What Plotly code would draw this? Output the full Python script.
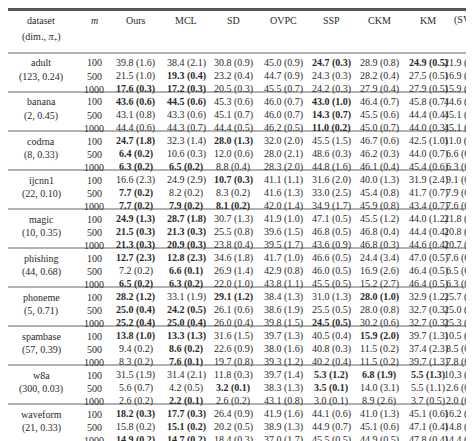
import plotly.graph_objects as go

datasets = ["adult", "banana", "codrna", "ijcnn1", "magic", "phishing", "phoneme", "spambase", "w8a", "waveform"]
dims = ["(123, 0.24)", "(2, 0.45)", "(8, 0.33)", "(22, 0.10)", "(10, 0.35)", "(44, 0.68)", "(5, 0.71)", "(57, 0.39)", "(300, 0.03)", "(21, 0.33)"]
m_values = ["100", "500", "1000"]
methods = ["Ours", "MCL", "SD", "OVPC", "SSP", "CKM", "KM", "(SV)"]

ours = ["39.8 (1.6)","21.5 (1.0)","17.6 (0.3)","43.6 (0.6)","43.1 (0.8)","44.4 (0.6)","24.7 (1.8)","6.4 (0.2)","6.3 (0.2)",
        "16.6 (2.3)","7.7 (0.2)","7.7 (0.2)","24.9 (1.3)","21.5 (0.3)","21.3 (0.3)","12.7 (2.3)","7.2 (0.2)","6.5 (0.2)",
        "28.2 (1.2)","25.0 (0.4)","25.2 (0.4)","13.8 (1.0)","9.4 (0.2)","8.3 (0.2)","31.5 (1.9)","5.6 (0.7)","2.6 (0.2)",
        "18.2 (0.3)","15.8 (0.2)","14.9 (0.2)"]
mcl = ["38.4 (2.1)","19.3 (0.4)","17.2 (0.3)","44.5 (0.6)","43.3 (0.6)","44.3 (0.7)","32.3 (1.4)","10.6 (0.3)","6.5 (0.2)",
       "24.9 (2.9)","8.2 (0.2)","7.9 (0.2)","28.7 (1.8)","21.3 (0.3)","20.9 (0.3)","12.8 (2.3)","6.6 (0.1)","6.3 (0.2)",
       "33.1 (1.9)","24.2 (0.5)","25.0 (0.4)","13.3 (1.3)","8.6 (0.2)","7.6 (0.1)","31.4 (2.1)","4.2 (0.5)","2.2 (0.1)",
       "17.7 (0.3)","15.1 (0.2)","14.7 (0.2)"]
sd = ["30.8 (0.9)","23.2 (0.4)","20.5 (0.3)","45.3 (0.6)","45.1 (0.7)","44.4 (0.5)","28.0 (1.3)","12.0 (0.6)","8.8 (0.4)",
      "10.7 (0.3)","8.3 (0.2)","8.1 (0.2)","30.7 (1.3)","25.5 (0.8)","23.8 (0.4)","34.6 (1.8)","26.9 (1.4)","22.0 (1.0)",
      "29.1 (1.2)","26.1 (0.6)","26.0 (0.4)","31.6 (1.5)","22.6 (0.9)","19.7 (0.8)","11.8 (0.3)","3.2 (0.1)","2.6 (0.2)",
      "26.4 (0.9)","20.2 (0.5)","18.4 (0.3)"]
ovpc = ["45.0 (0.9)","44.7 (0.9)","45.5 (0.7)","46.0 (0.7)","46.0 (0.7)","46.2 (0.5)","32.0 (2.0)","28.0 (2.1)","28.3 (2.0)",
        "41.1 (1.1)","41.6 (1.3)","42.0 (1.4)","41.9 (1.0)","39.6 (1.5)","39.5 (1.7)","41.7 (1.0)","42.9 (0.8)","43.8 (1.1)",
        "38.4 (1.3)","38.6 (1.9)","39.8 (1.5)","39.7 (1.3)","38.0 (1.6)","39.3 (1.2)","39.7 (1.4)","38.3 (1.3)","43.1 (0.8)",
        "41.9 (1.6)","38.9 (1.3)","37.0 (1.7)"]
ssp = ["24.7 (0.3)","24.3 (0.3)","24.2 (0.3)","43.0 (1.0)","14.3 (0.7)","11.0 (0.2)","45.5 (1.5)","48.6 (0.3)","44.8 (1.6)",
       "31.6 (2.0)","33.0 (2.5)","34.9 (1.7)","47.1 (0.5)","46.8 (0.5)","43.6 (0.9)","46.6 (0.5)","46.0 (0.5)","45.5 (0.5)",
       "31.0 (1.3)","25.5 (0.5)","24.5 (0.5)","40.5 (0.4)","40.8 (0.3)","40.2 (0.4)","5.3 (1.2)","3.5 (0.1)","3.0 (0.1)",
       "44.1 (0.6)","44.9 (0.7)","45.5 (0.5)"]
ckm = ["28.9 (0.8)","28.2 (0.4)","27.9 (0.4)","46.4 (0.7)","45.5 (0.6)","45.0 (0.7)","46.7 (0.6)","46.2 (0.3)","46.1 (0.4)",
       "40.0 (1.3)","45.4 (0.8)","45.9 (0.8)","45.5 (1.2)","46.8 (0.4)","46.8 (0.3)","24.4 (3.4)","16.9 (2.6)","15.2 (2.7)",
       "28.0 (1.0)","28.0 (0.8)","30.2 (0.6)","15.9 (2.0)","11.5 (0.2)","11.5 (0.2)","6.8 (1.9)","14.0 (3.1)","8.9 (2.6)",
       "41.0 (1.3)","45.1 (0.6)","44.9 (0.5)"]
km = ["24.9 (0.5)","27.5 (0.5)","27.9 (0.5)","45.8 (0.7)","44.4 (0.4)","44.0 (0.3)","42.5 (1.0)","44.0 (0.7)","45.4 (0.6)",
      "31.9 (2.4)","41.7 (0.7)","43.4 (0.7)","44.0 (1.2)","44.4 (0.4)","44.6 (0.4)","47.0 (0.5)","46.4 (0.5)","46.4 (0.5)",
      "32.9 (1.2)","32.7 (0.3)","32.7 (0.3)","39.7 (1.3)","37.4 (2.3)","39.7 (1.3)","5.5 (1.3)","5.5 (1.1)","3.7 (0.5)",
      "45.1 (0.6)","47.1 (0.4)","47.8 (0.4)"]
sv = ["21.9 (0.4)","16.9 (0.3)","15.9 (0.3)","44.6 (0.6)","45.1 (0.6)","45.1 (0.7)","11.0 (0.6)","6.6 (0.2)","6.3 (0.2)",
      "9.1 (0.2)","7.9 (0.2)","7.6 (0.2)","21.8 (0.4)","20.8 (0.3)","20.7 (0.3)","7.6 (0.2)","6.5 (0.2)","6.3 (0.2)",
      "25.7 (0.4)","25.0 (0.3)","25.3 (0.2)","10.5 (0.3)","8.5 (0.2)","7.8 (0.2)","10.3 (0.4)","2.6 (0.1)","2.0 (0.1)",
      "16.2 (0.2)","14.8 (0.2)","14.4 (0.2)"]

# bold cells: row indices (group*3 + m index)
bold_ours = [2, 3, 6, 7, 8, 10, 11, 12, 13, 14, 15, 17, 18, 19, 20, 21, 27, 29]
bold_mcl = [1, 2, 3, 8, 11, 12, 13, 14, 15, 16, 17, 19, 20, 21, 22, 23, 26, 27, 28, 29]
bold_sd = [6, 9, 11, 18, 25]
bold_ovpc = []
bold_ssp = [0, 3, 4, 5, 20, 24, 25]
bold_ckm = [18, 21, 24]
bold_km = [0, 24]
bold_sv = []

columns = [ours, mcl, sd, ovpc, ssp, ckm, km, sv]
bolds = [bold_ours, bold_mcl, bold_sd, bold_ovpc, bold_ssp, bold_ckm, bold_km, bold_sv]

W, H = 474, 441
col_x = [128, 178, 225, 275, 323, 371, 420, 455]
ds_x, m_x = 33, 86
header_bottom = 45
group_h = 39
row_h = 13.2
first_off = 10

FONT = "Liberation Serif, Times New Roman, serif"
TXT = "#2a2a2a"
fig = go.Figure()
ann = []

def py(y):
    return 1 - y / H

def add(x, y, text, size=10):
    ann.append(dict(x=x / W, y=py(y), xref="paper", yref="paper", text=text, showarrow=False,
                    xanchor="center", yanchor="middle", font=dict(family=FONT, size=size, color=TXT)))

add(ds_x, 12, "dataset")
add(ds_x, 29, "(dim., <i>π</i><sub>+</sub>)")
add(m_x, 12, "<i>m</i>")
for x, name in zip(col_x, methods):
    add(x, 12, name)

for g, (d, dm) in enumerate(zip(datasets, dims)):
    y0 = header_bottom + g * group_h + first_off
    add(ds_x, y0, d)
    add(ds_x, y0 + 14, dm)
    for i, mv in enumerate(m_values):
        y = y0 + i * row_h
        r = g * 3 + i
        add(m_x, y, mv)
        for x, col, b in zip(col_x, columns, bolds):
            t = col[r]
            add(x, y, f"<b>{t}</b>" if r in b else t)

shapes = [dict(type="line", xref="paper", yref="paper", x0=0, x1=1, y0=py(1.5), y1=py(1.5),
               line=dict(color="#555", width=3))]
for g in range(len(datasets)):
    y = header_bottom + g * group_h
    shapes.append(dict(type="line", xref="paper", yref="paper", x0=0, x1=1, y0=py(y), y1=py(y),
                       line=dict(color="#999", width=1.6)))
shapes.append(dict(type="line", xref="paper", yref="paper", x0=0, x1=1, y0=py(439), y1=py(439),
                   line=dict(color="#ccc", width=2)))

fig.update_layout(width=W, height=H, margin=dict(l=0, r=0, t=0, b=0),
                  paper_bgcolor="white", plot_bgcolor="white",
                  xaxis=dict(visible=False), yaxis=dict(visible=False),
                  annotations=ann, shapes=shapes)
fig.write_html("out.html")
